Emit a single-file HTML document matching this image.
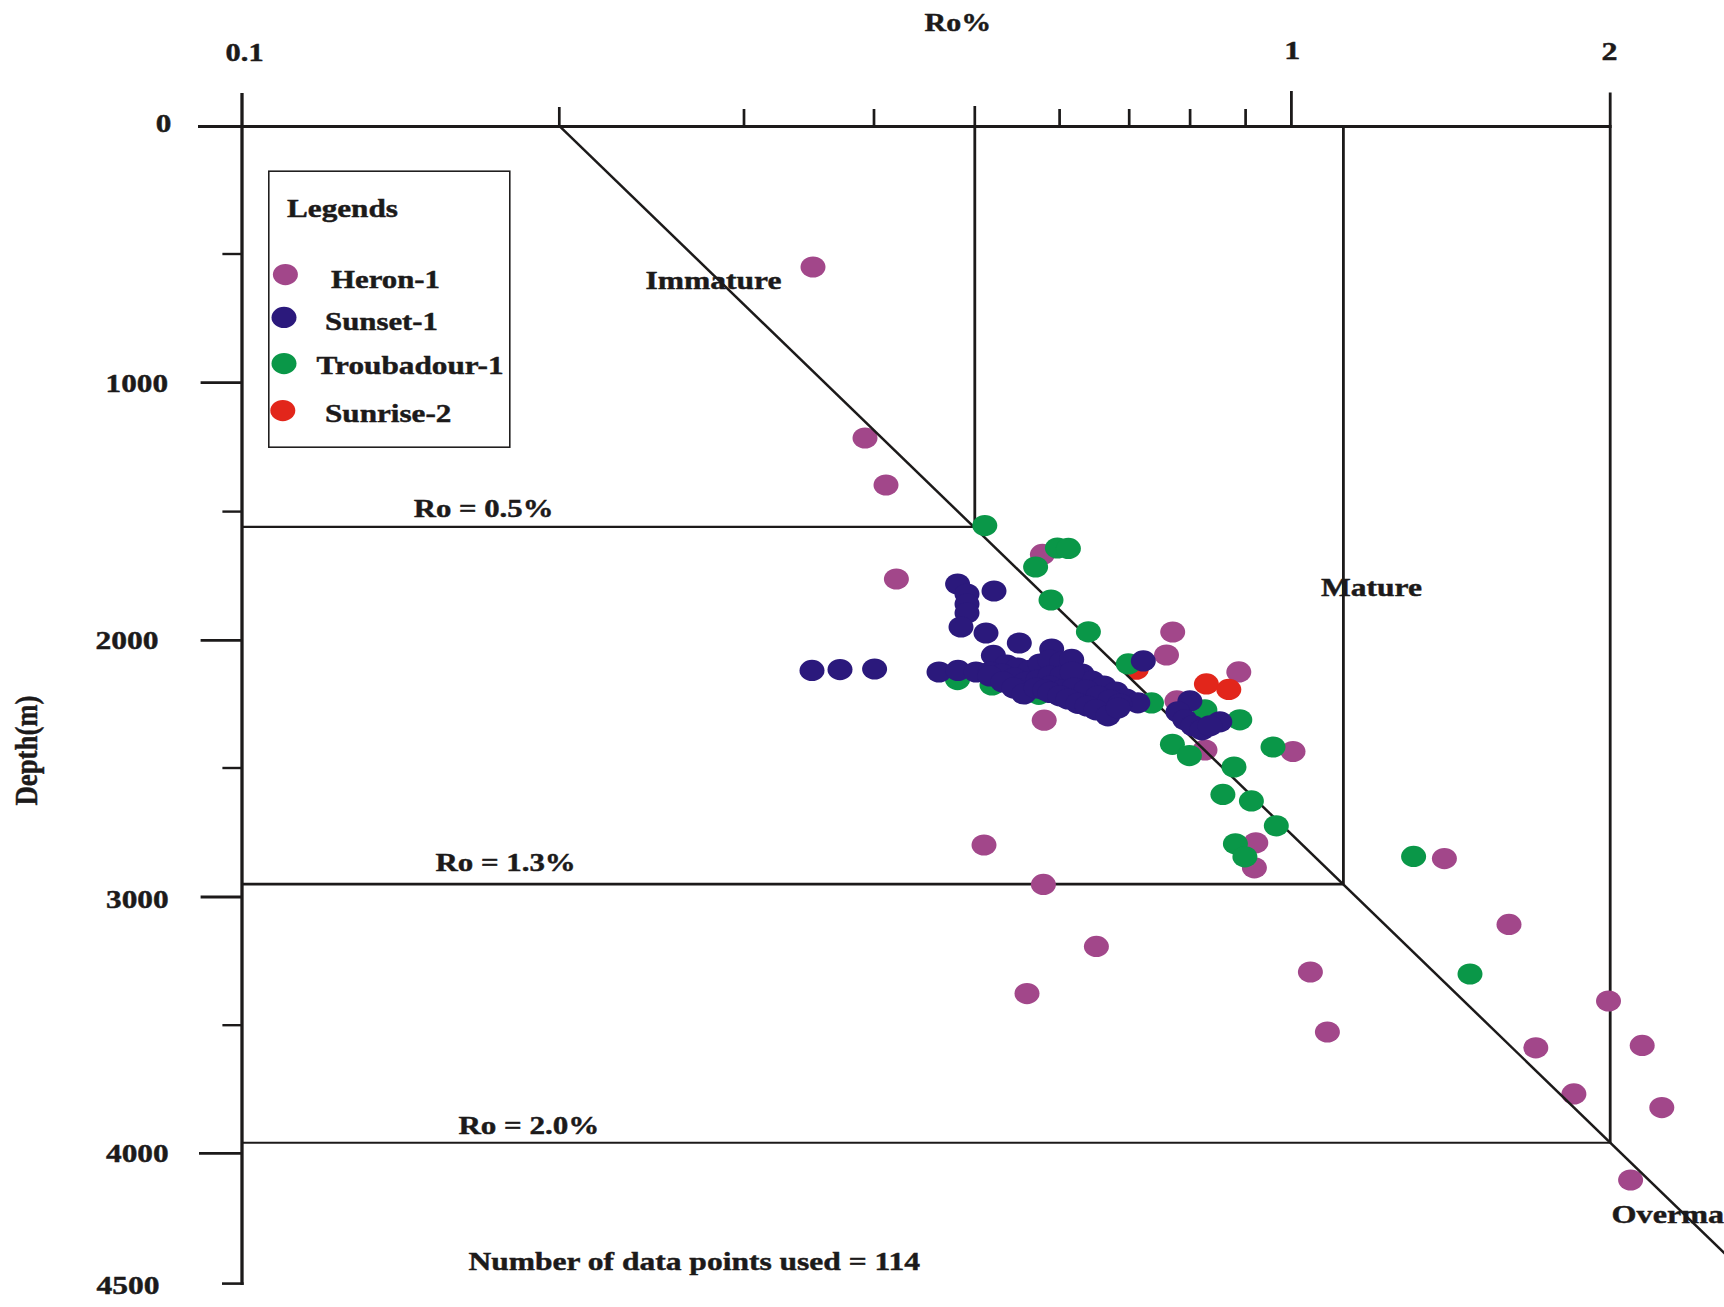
<!DOCTYPE html>
<html><head><meta charset="utf-8"><title>Ro% vs Depth</title>
<style>html,body{margin:0;padding:0;background:#fff;overflow:hidden}svg{display:block}</style></head>
<body>
<svg width="1724" height="1307" viewBox="0 0 1724 1307">
<rect width="100%" height="100%" fill="#fff"/>
<g stroke="#1c1a1a" fill="none" stroke-linecap="butt">
<line x1="242" y1="93" x2="242" y2="1285" stroke-width="3.3"/>
<line x1="198" y1="126.4" x2="1611.6" y2="126.4" stroke-width="3"/>
<line x1="1610.2" y1="92.4" x2="1610.2" y2="1143" stroke-width="2.8"/>
<line x1="974.8" y1="126" x2="974.8" y2="527" stroke-width="2.8"/>
<line x1="1343.4" y1="126" x2="1343.4" y2="884.5" stroke-width="2.8"/>
<line x1="242" y1="526.8" x2="975" y2="526.8" stroke-width="2.3"/>
<line x1="242" y1="884.2" x2="1343.4" y2="884.2" stroke-width="2.7"/>
<line x1="242" y1="1142.8" x2="1610.2" y2="1142.8" stroke-width="2.1"/>
<line x1="559.3" y1="107" x2="559.3" y2="126" stroke-width="2.7"/>
<line x1="744" y1="109" x2="744" y2="126" stroke-width="2.7"/>
<line x1="874" y1="109" x2="874" y2="126" stroke-width="2.7"/>
<line x1="974.8" y1="106" x2="974.8" y2="126" stroke-width="2.7"/>
<line x1="1059.6" y1="109" x2="1059.6" y2="126" stroke-width="2.7"/>
<line x1="1129.2" y1="109" x2="1129.2" y2="126" stroke-width="2.7"/>
<line x1="1190.1" y1="109" x2="1190.1" y2="126" stroke-width="2.7"/>
<line x1="1245.6" y1="109" x2="1245.6" y2="126" stroke-width="2.7"/>
<line x1="1291.4" y1="91" x2="1291.4" y2="126" stroke-width="2.8"/>
<line x1="222.4" y1="254" x2="242" y2="254" stroke-width="2.4"/>
<line x1="222.4" y1="511.6" x2="242" y2="511.6" stroke-width="2.4"/>
<line x1="222.4" y1="768" x2="242" y2="768" stroke-width="2.4"/>
<line x1="222.4" y1="1025.2" x2="242" y2="1025.2" stroke-width="2.4"/>
<line x1="200.6" y1="382.6" x2="242" y2="382.6" stroke-width="2.8"/>
<line x1="200.6" y1="640.4" x2="242" y2="640.4" stroke-width="2.8"/>
<line x1="200.6" y1="897" x2="242" y2="897" stroke-width="2.8"/>
<line x1="199" y1="1153.4" x2="242" y2="1153.4" stroke-width="2.8"/>
<line x1="222" y1="1283.6" x2="243.6" y2="1283.6" stroke-width="2.6"/>
<rect x="268.8" y="171.2" width="241" height="276" stroke-width="1.55"/>
</g>
<ellipse cx="813" cy="267" rx="12.5" ry="10.6" fill="#a2478a"/><ellipse cx="865" cy="438" rx="12.5" ry="10.6" fill="#a2478a"/><ellipse cx="886" cy="485" rx="12.5" ry="10.6" fill="#a2478a"/><ellipse cx="896.4" cy="579" rx="12.5" ry="10.6" fill="#a2478a"/><ellipse cx="1042.4" cy="554.4" rx="12.5" ry="10.6" fill="#a2478a"/><ellipse cx="1172.7" cy="632" rx="12.5" ry="10.6" fill="#a2478a"/><ellipse cx="1166.5" cy="655" rx="12.5" ry="10.6" fill="#a2478a"/><ellipse cx="1238.8" cy="671.9" rx="12.5" ry="10.6" fill="#a2478a"/><ellipse cx="1176.9" cy="700.9" rx="12.5" ry="10.6" fill="#a2478a"/><ellipse cx="1044.2" cy="720.2" rx="12.5" ry="10.6" fill="#a2478a"/><ellipse cx="1205" cy="750" rx="12.5" ry="10.6" fill="#a2478a"/><ellipse cx="1293" cy="751.5" rx="12.5" ry="10.6" fill="#a2478a"/><ellipse cx="984" cy="845" rx="12.5" ry="10.6" fill="#a2478a"/><ellipse cx="1255.8" cy="842.8" rx="12.5" ry="10.6" fill="#a2478a"/><ellipse cx="1254.4" cy="867.8" rx="12.5" ry="10.6" fill="#a2478a"/><ellipse cx="1043.4" cy="884.4" rx="12.5" ry="10.6" fill="#a2478a"/><ellipse cx="1444.4" cy="858.6" rx="12.5" ry="10.6" fill="#a2478a"/><ellipse cx="1096.4" cy="946.4" rx="12.5" ry="10.6" fill="#a2478a"/><ellipse cx="1027" cy="993.6" rx="12.5" ry="10.6" fill="#a2478a"/><ellipse cx="1310.4" cy="972" rx="12.5" ry="10.6" fill="#a2478a"/><ellipse cx="1327.4" cy="1032" rx="12.5" ry="10.6" fill="#a2478a"/><ellipse cx="1509" cy="924.4" rx="12.5" ry="10.6" fill="#a2478a"/><ellipse cx="1608.5" cy="1001" rx="12.5" ry="10.6" fill="#a2478a"/><ellipse cx="1535.8" cy="1047.8" rx="12.5" ry="10.6" fill="#a2478a"/><ellipse cx="1642.2" cy="1045.4" rx="12.5" ry="10.6" fill="#a2478a"/><ellipse cx="1573.9" cy="1093.9" rx="12.5" ry="10.6" fill="#a2478a"/><ellipse cx="1661.8" cy="1107.6" rx="12.5" ry="10.6" fill="#a2478a"/><ellipse cx="1630.6" cy="1180" rx="12.5" ry="10.6" fill="#a2478a"/>
<ellipse cx="1136.3" cy="669.2" rx="12.5" ry="10.6" fill="#e2261b"/><ellipse cx="1206.4" cy="683.9" rx="12.5" ry="10.6" fill="#e2261b"/><ellipse cx="1228.8" cy="689.4" rx="12.5" ry="10.6" fill="#e2261b"/>
<line x1="559.8" y1="126.4" x2="1726" y2="1254.6" stroke="#1c1a1a" stroke-width="2.5"/>
<ellipse cx="984.8" cy="525.6" rx="12.5" ry="10.6" fill="#0a9748"/><ellipse cx="1057.4" cy="548" rx="12.5" ry="10.6" fill="#0a9748"/><ellipse cx="1068.4" cy="548.4" rx="12.5" ry="10.6" fill="#0a9748"/><ellipse cx="1035.6" cy="567" rx="12.5" ry="10.6" fill="#0a9748"/><ellipse cx="1051" cy="600" rx="12.5" ry="10.6" fill="#0a9748"/><ellipse cx="1088.4" cy="631.8" rx="12.5" ry="10.6" fill="#0a9748"/><ellipse cx="1128.3" cy="663.9" rx="12.5" ry="10.6" fill="#0a9748"/><ellipse cx="957.5" cy="679.6" rx="12.5" ry="10.6" fill="#0a9748"/><ellipse cx="992" cy="685" rx="12.5" ry="10.6" fill="#0a9748"/><ellipse cx="1038.8" cy="694.3" rx="12.5" ry="10.6" fill="#0a9748"/><ellipse cx="1151.5" cy="702.9" rx="12.5" ry="10.6" fill="#0a9748"/><ellipse cx="1204.9" cy="709.9" rx="12.5" ry="10.6" fill="#0a9748"/><ellipse cx="1239.8" cy="719.8" rx="12.5" ry="10.6" fill="#0a9748"/><ellipse cx="1172.4" cy="744.3" rx="12.5" ry="10.6" fill="#0a9748"/><ellipse cx="1189.4" cy="755.6" rx="12.5" ry="10.6" fill="#0a9748"/><ellipse cx="1273" cy="747" rx="12.5" ry="10.6" fill="#0a9748"/><ellipse cx="1234" cy="767" rx="12.5" ry="10.6" fill="#0a9748"/><ellipse cx="1222.9" cy="794.4" rx="12.5" ry="10.6" fill="#0a9748"/><ellipse cx="1251.4" cy="800.9" rx="12.5" ry="10.6" fill="#0a9748"/><ellipse cx="1276.3" cy="825.8" rx="12.5" ry="10.6" fill="#0a9748"/><ellipse cx="1235.4" cy="843.8" rx="12.5" ry="10.6" fill="#0a9748"/><ellipse cx="1244.9" cy="856.8" rx="12.5" ry="10.6" fill="#0a9748"/><ellipse cx="1413.6" cy="856.4" rx="12.5" ry="10.6" fill="#0a9748"/><ellipse cx="1470" cy="974" rx="12.5" ry="10.6" fill="#0a9748"/>
<ellipse cx="812" cy="670.4" rx="12.5" ry="10.6" fill="#2b197c"/><ellipse cx="840" cy="669.6" rx="12.5" ry="10.6" fill="#2b197c"/><ellipse cx="874.6" cy="669" rx="12.5" ry="10.6" fill="#2b197c"/><ellipse cx="957.6" cy="584" rx="12.5" ry="10.6" fill="#2b197c"/><ellipse cx="967" cy="594" rx="12.5" ry="10.6" fill="#2b197c"/><ellipse cx="967" cy="604" rx="12.5" ry="10.6" fill="#2b197c"/><ellipse cx="967" cy="613" rx="12.5" ry="10.6" fill="#2b197c"/><ellipse cx="961" cy="627" rx="12.5" ry="10.6" fill="#2b197c"/><ellipse cx="994" cy="591" rx="12.5" ry="10.6" fill="#2b197c"/><ellipse cx="986" cy="633" rx="12.5" ry="10.6" fill="#2b197c"/><ellipse cx="1019.3" cy="643" rx="12.5" ry="10.6" fill="#2b197c"/><ellipse cx="1051.7" cy="649" rx="12.5" ry="10.6" fill="#2b197c"/><ellipse cx="939" cy="672" rx="12.5" ry="10.6" fill="#2b197c"/><ellipse cx="958" cy="670.4" rx="12.5" ry="10.6" fill="#2b197c"/><ellipse cx="976" cy="672" rx="12.5" ry="10.6" fill="#2b197c"/><ellipse cx="993.4" cy="655.4" rx="12.5" ry="10.6" fill="#2b197c"/><ellipse cx="1006.8" cy="665" rx="12.5" ry="10.6" fill="#2b197c"/><ellipse cx="1018" cy="668" rx="12.5" ry="10.6" fill="#2b197c"/><ellipse cx="1029.8" cy="670.4" rx="12.5" ry="10.6" fill="#2b197c"/><ellipse cx="1040" cy="664" rx="12.5" ry="10.6" fill="#2b197c"/><ellipse cx="1049.7" cy="660" rx="12.5" ry="10.6" fill="#2b197c"/><ellipse cx="1061.7" cy="662" rx="12.5" ry="10.6" fill="#2b197c"/><ellipse cx="1071.7" cy="659.4" rx="12.5" ry="10.6" fill="#2b197c"/><ellipse cx="1082" cy="674" rx="12.5" ry="10.6" fill="#2b197c"/><ellipse cx="1092" cy="681" rx="12.5" ry="10.6" fill="#2b197c"/><ellipse cx="1104" cy="686" rx="12.5" ry="10.6" fill="#2b197c"/><ellipse cx="1116" cy="692" rx="12.5" ry="10.6" fill="#2b197c"/><ellipse cx="1126" cy="699" rx="12.5" ry="10.6" fill="#2b197c"/><ellipse cx="1137.8" cy="702.8" rx="12.5" ry="10.6" fill="#2b197c"/><ellipse cx="990" cy="672" rx="12.5" ry="10.6" fill="#2b197c"/><ellipse cx="1002" cy="674" rx="12.5" ry="10.6" fill="#2b197c"/><ellipse cx="1014" cy="678" rx="12.5" ry="10.6" fill="#2b197c"/><ellipse cx="1026" cy="682" rx="12.5" ry="10.6" fill="#2b197c"/><ellipse cx="1038" cy="680" rx="12.5" ry="10.6" fill="#2b197c"/><ellipse cx="1050" cy="676" rx="12.5" ry="10.6" fill="#2b197c"/><ellipse cx="1062" cy="676" rx="12.5" ry="10.6" fill="#2b197c"/><ellipse cx="1072" cy="672" rx="12.5" ry="10.6" fill="#2b197c"/><ellipse cx="1050" cy="686" rx="12.5" ry="10.6" fill="#2b197c"/><ellipse cx="1062" cy="690" rx="12.5" ry="10.6" fill="#2b197c"/><ellipse cx="1074" cy="688" rx="12.5" ry="10.6" fill="#2b197c"/><ellipse cx="1086" cy="690" rx="12.5" ry="10.6" fill="#2b197c"/><ellipse cx="1098" cy="696" rx="12.5" ry="10.6" fill="#2b197c"/><ellipse cx="1110" cy="700" rx="12.5" ry="10.6" fill="#2b197c"/><ellipse cx="1120" cy="704" rx="12.5" ry="10.6" fill="#2b197c"/><ellipse cx="989.9" cy="675.9" rx="12.5" ry="10.6" fill="#2b197c"/><ellipse cx="1002.8" cy="681.9" rx="12.5" ry="10.6" fill="#2b197c"/><ellipse cx="1013.8" cy="687.9" rx="12.5" ry="10.6" fill="#2b197c"/><ellipse cx="1023.8" cy="693.9" rx="12.5" ry="10.6" fill="#2b197c"/><ellipse cx="1036" cy="688" rx="12.5" ry="10.6" fill="#2b197c"/><ellipse cx="1044.8" cy="689.9" rx="12.5" ry="10.6" fill="#2b197c"/><ellipse cx="1050" cy="692.4" rx="12.5" ry="10.6" fill="#2b197c"/><ellipse cx="1059.7" cy="695.8" rx="12.5" ry="10.6" fill="#2b197c"/><ellipse cx="1068" cy="699" rx="12.5" ry="10.6" fill="#2b197c"/><ellipse cx="1077.9" cy="703.3" rx="12.5" ry="10.6" fill="#2b197c"/><ellipse cx="1087" cy="706" rx="12.5" ry="10.6" fill="#2b197c"/><ellipse cx="1095.9" cy="709.8" rx="12.5" ry="10.6" fill="#2b197c"/><ellipse cx="1107.9" cy="715.8" rx="12.5" ry="10.6" fill="#2b197c"/><ellipse cx="1118" cy="708" rx="12.5" ry="10.6" fill="#2b197c"/><ellipse cx="1143.3" cy="660.9" rx="12.5" ry="10.6" fill="#2b197c"/><ellipse cx="1189.9" cy="700.9" rx="12.5" ry="10.6" fill="#2b197c"/><ellipse cx="1177.9" cy="711.9" rx="12.5" ry="10.6" fill="#2b197c"/><ellipse cx="1184.9" cy="719.8" rx="12.5" ry="10.6" fill="#2b197c"/><ellipse cx="1192.9" cy="725.8" rx="12.5" ry="10.6" fill="#2b197c"/><ellipse cx="1201.9" cy="729.8" rx="12.5" ry="10.6" fill="#2b197c"/><ellipse cx="1219.8" cy="721.8" rx="12.5" ry="10.6" fill="#2b197c"/><ellipse cx="1209.9" cy="725.8" rx="12.5" ry="10.6" fill="#2b197c"/>
<ellipse cx="285.4" cy="274.6" rx="12.5" ry="10.6" fill="#a2478a"/><ellipse cx="284" cy="317.4" rx="12.5" ry="10.6" fill="#2b197c"/><ellipse cx="284" cy="363.6" rx="12.5" ry="10.6" fill="#0a9748"/><ellipse cx="282.8" cy="410.6" rx="12.5" ry="10.6" fill="#e2261b"/>
<g font-family="'Liberation Serif', serif" font-weight="bold" fill="#1c1a1a" font-size="26.2" stroke="#1c1a1a" stroke-width="0.45" paint-order="stroke">
<text x="924.6" y="30.5" textLength="66.5" lengthAdjust="spacingAndGlyphs" >Ro%</text>
<text x="225.6" y="61" textLength="38" lengthAdjust="spacingAndGlyphs" >0.1</text>
<text x="1284.2" y="58.8" textLength="16" lengthAdjust="spacingAndGlyphs" >1</text>
<text x="1601.6" y="59.6" textLength="16" lengthAdjust="spacingAndGlyphs" >2</text>
<text x="155.8" y="132" textLength="15.6" lengthAdjust="spacingAndGlyphs" >0</text>
<text x="105.6" y="391.6" textLength="62.4" lengthAdjust="spacingAndGlyphs" >1000</text>
<text x="95.6" y="649.4" textLength="63" lengthAdjust="spacingAndGlyphs" >2000</text>
<text x="106" y="908.4" textLength="62.6" lengthAdjust="spacingAndGlyphs" >3000</text>
<text x="106" y="1162" textLength="62.6" lengthAdjust="spacingAndGlyphs" >4000</text>
<text x="96.6" y="1293.6" textLength="63" lengthAdjust="spacingAndGlyphs" >4500</text>
<text x="287" y="217" textLength="111" lengthAdjust="spacingAndGlyphs" >Legends</text>
<text x="331" y="288" textLength="109" lengthAdjust="spacingAndGlyphs" >Heron-1</text>
<text x="325" y="330" textLength="113" lengthAdjust="spacingAndGlyphs" >Sunset-1</text>
<text x="316.6" y="374.4" textLength="187" lengthAdjust="spacingAndGlyphs" >Troubadour-1</text>
<text x="325" y="421.6" textLength="126.4" lengthAdjust="spacingAndGlyphs" >Sunrise-2</text>
<text x="645.4" y="289" textLength="136" lengthAdjust="spacingAndGlyphs" >Immature</text>
<text x="1321" y="596.4" textLength="101" lengthAdjust="spacingAndGlyphs" >Mature</text>
<text x="1611.6" y="1223" textLength="169" lengthAdjust="spacingAndGlyphs" >Overmature</text>
<text x="413.8" y="517" textLength="139.6" lengthAdjust="spacingAndGlyphs" >Ro = 0.5%</text>
<text x="435.4" y="871.4" textLength="140.4" lengthAdjust="spacingAndGlyphs" >Ro = 1.3%</text>
<text x="458.4" y="1133.6" textLength="141" lengthAdjust="spacingAndGlyphs" >Ro = 2.0%</text>
<text x="468.6" y="1269.8" textLength="451.4" lengthAdjust="spacingAndGlyphs" >Number of data points used = 114</text>
<text transform="translate(37.2,805.5) rotate(-90)" font-size="31" textLength="110" lengthAdjust="spacingAndGlyphs">Depth(m)</text>
</g>
</svg>
</body></html>
